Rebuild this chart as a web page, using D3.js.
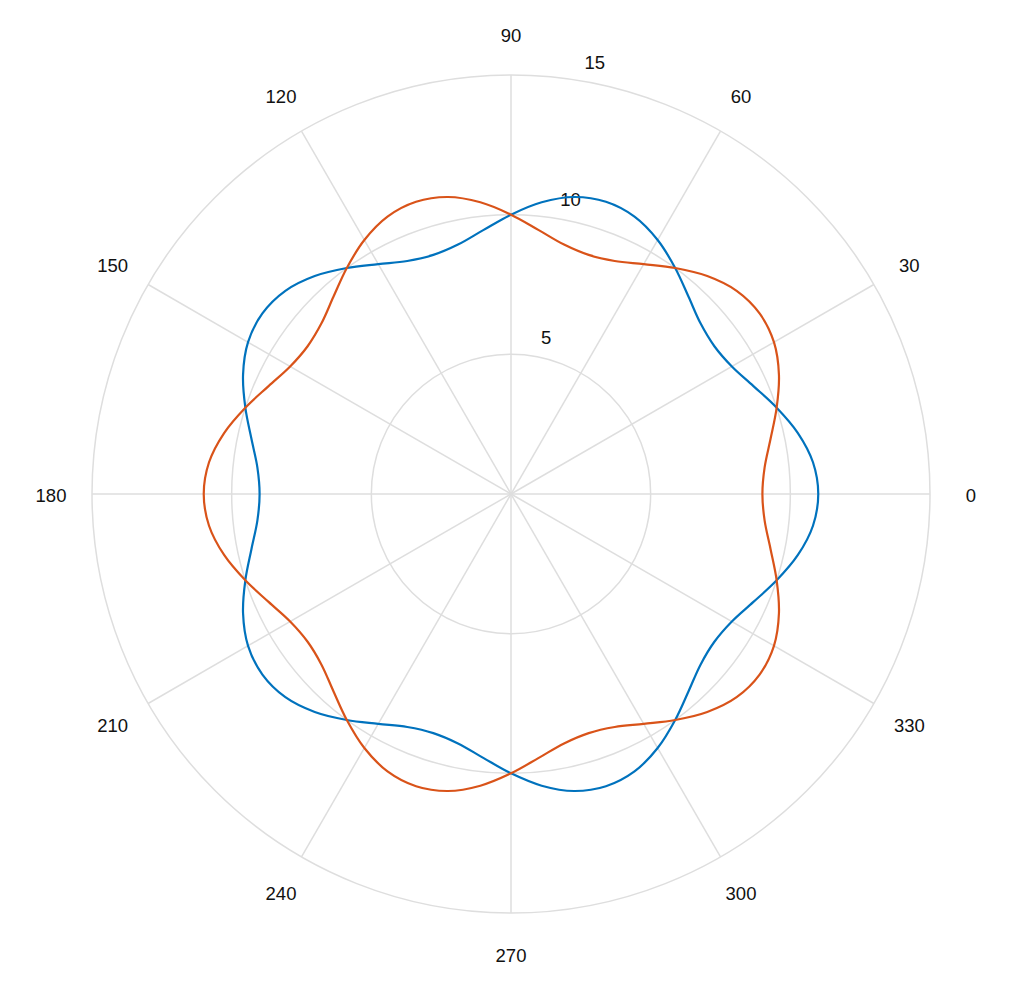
<!DOCTYPE html>
<html>
<head>
<meta charset="utf-8">
<script src="https://cdn.jsdelivr.net/npm/d3@7"></script>
<style>
  html, body { margin: 0; padding: 0; background: #fff; }
  svg text { font-family: "Liberation Sans", Arial, Helvetica, sans-serif; fill: #111; }
</style>
</head>
<body>
<svg id="chart" width="1024" height="988"></svg>
<script>
// angles in degrees (6° steps)
const thetaDeg = d3.range(0, 360, 6);
// radius values
const rhoBlue = [
  11, 10.87, 10.5, 10, 9.5, 9.13, 9, 9.13, 9.5, 10, 10.5, 10.87,
  11, 10.87, 10.5, 10, 9.5, 9.13, 9, 9.13, 9.5, 10, 10.5, 10.87,
  11, 10.87, 10.5, 10, 9.5, 9.13, 9, 9.13, 9.5, 10, 10.5, 10.87,
  11, 10.87, 10.5, 10, 9.5, 9.13, 9, 9.13, 9.5, 10, 10.5, 10.87,
  11, 10.87, 10.5, 10, 9.5, 9.13, 9, 9.13, 9.5, 10, 10.5, 10.87
];
const rhoOrange = [
  9, 9.13, 9.5, 10, 10.5, 10.87, 11, 10.87, 10.5, 10, 9.5, 9.13,
  9, 9.13, 9.5, 10, 10.5, 10.87, 11, 10.87, 10.5, 10, 9.5, 9.13,
  9, 9.13, 9.5, 10, 10.5, 10.87, 11, 10.87, 10.5, 10, 9.5, 9.13,
  9, 9.13, 9.5, 10, 10.5, 10.87, 11, 10.87, 10.5, 10, 9.5, 9.13,
  9, 9.13, 9.5, 10, 10.5, 10.87, 11, 10.87, 10.5, 10, 9.5, 9.13
];
const rTicks = [5, 10, 15];
const thetaTicks = [0, 30, 60, 90, 120, 150, 180, 210, 240, 270, 300, 330];
const rMax = 15;
const rAxisAngle = 80;

const cx = 511, cy = 494, R = 419;
const svg = d3.select("#chart");
const g = svg.append("g").attr("transform", `translate(${cx},${cy})`);
const r = d3.scaleLinear().domain([0, rMax]).range([0, R]);
const toRad = d => d * Math.PI / 180;
const px = (deg, rr) => rr * Math.cos(toRad(deg));
const py = (deg, rr) => -rr * Math.sin(toRad(deg));

const gridColor = "#dedede";

// spokes
g.selectAll("line.spoke").data(thetaTicks).enter().append("line")
  .attr("x1", 0).attr("y1", 0)
  .attr("x2", d => px(d, R)).attr("y2", d => py(d, R))
  .attr("stroke", gridColor).attr("stroke-width", 1.5);

// rings
g.selectAll("circle.ring").data(rTicks).enter().append("circle")
  .attr("r", d => r(d)).attr("fill", "none")
  .attr("stroke", gridColor).attr("stroke-width", 1.5);

// angular labels
g.selectAll("text.tl").data(thetaTicks).enter().append("text")
  .attr("x", d => px(d, R + 41)).attr("y", d => py(d, R + 41) + 1)
  .attr("text-anchor", "middle").attr("dominant-baseline", "central")
  .attr("font-size", 18.5)
  .text(d => d);

// radial labels
g.selectAll("text.rl").data(rTicks).enter().append("text")
  .attr("x", d => px(rAxisAngle, r(d)) + 11).attr("y", d => py(rAxisAngle, r(d)) - 19)
  .attr("text-anchor", "middle").attr("dominant-baseline", "central")
  .attr("font-size", 18.5)
  .text(d => d);

// lines: d3.lineRadial has angle 0 at 12 o'clock, clockwise; convert math angle θ → π/2 - θ
const radial = d3.lineRadial()
  .angle(d => Math.PI / 2 - toRad(d[0]))
  .radius(d => r(d[1]))
  .curve(d3.curveCatmullRomClosed.alpha(0.5));

const series = [
  { values: rhoBlue, color: "#0072BD" },
  { values: rhoOrange, color: "#D95319" }
];
series.forEach(s => {
  g.append("path")
    .datum(thetaDeg.map((t, i) => [t, s.values[i]]))
    .attr("d", radial)
    .attr("fill", "none")
    .attr("stroke", s.color)
    .attr("stroke-width", 2.2);
});
</script>
</body>
</html>
